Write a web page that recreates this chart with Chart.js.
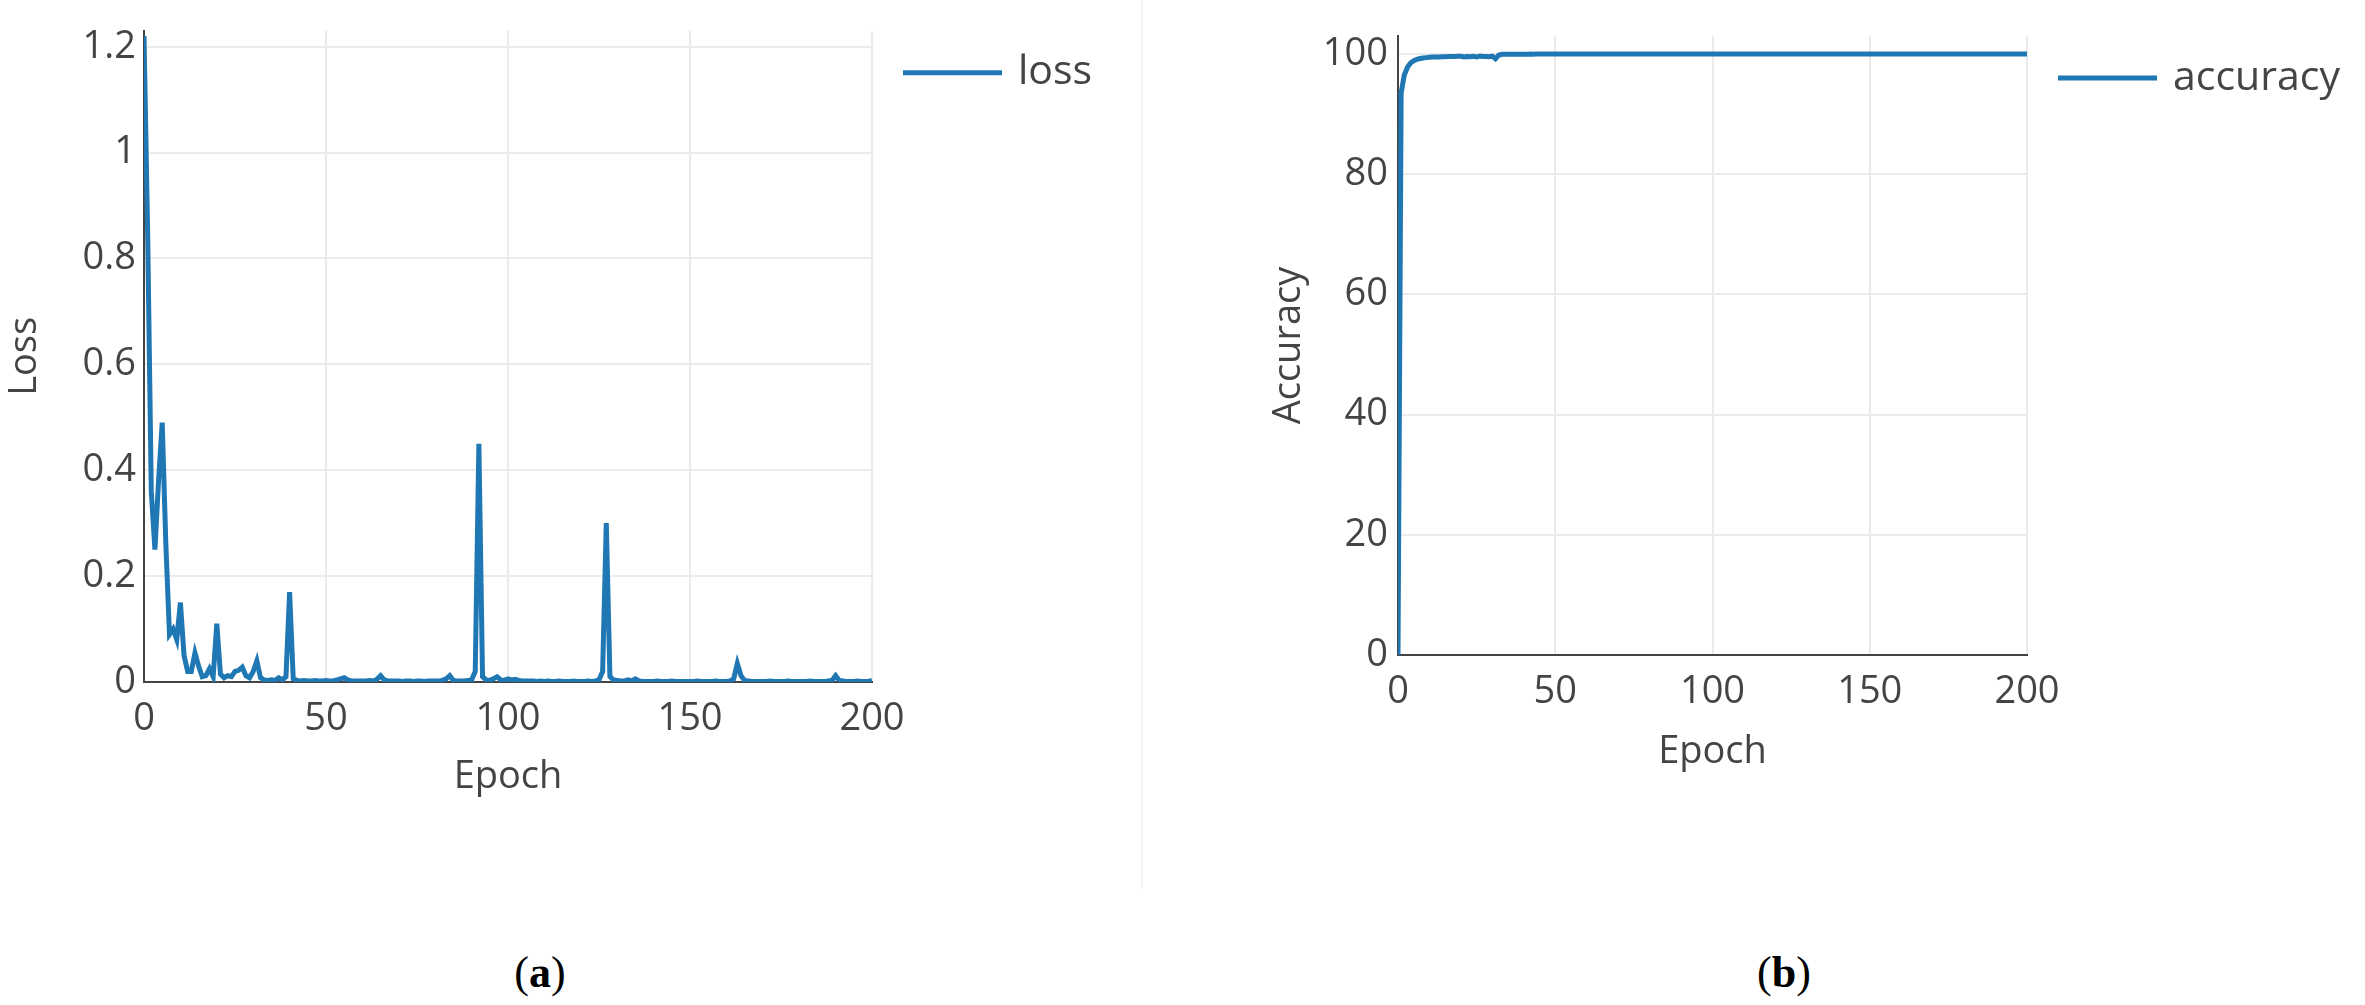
<!DOCTYPE html>
<html>
<head>
<meta charset="utf-8">
<script src="https://cdn.jsdelivr.net/npm/chart.js@4.4.0/dist/chart.umd.min.js"></script>
<style>
  html, body { margin: 0; padding: 0; background: #fff; width: 2365px; height: 1005px; overflow: hidden; }
  canvas { position: absolute; top: 0; }
  #lossCanvas { left: 0; }
  #accCanvas { left: 1141px; }
  .sep { position: absolute; left: 1141px; top: 0; width: 2px; height: 890px; background: #f6f6f6; }
  .cap { position: absolute; top: 948px; line-height: 50px; font-family: 'Liberation Serif', 'Times New Roman', serif;
         font-size: 44px; color: #000; transform: translateX(-50%); }
</style>
</head>
<body>
<canvas id="lossCanvas" width="1141" height="820"></canvas>
<div class="sep"></div>
<canvas id="accCanvas" width="1224" height="820"></canvas>
<div class="cap" style="left:540px">(<b>a</b>)</div>
<div class="cap" style="left:1784px">(<b>b</b>)</div>
<script>
// ---- data (one value per epoch, epoch 0..200) ----
var lossValues = [
  1.22, 0.85, 0.36, 0.25, 0.38, 0.49, 0.26, 0.09, 0.10, 0.08,
  0.15, 0.05, 0.02, 0.02, 0.055, 0.03, 0.01, 0.012, 0.025, 0.01,
  0.11, 0.015, 0.008, 0.012, 0.01, 0.02, 0.022, 0.028, 0.012, 0.008,
  0.02, 0.04, 0.008, 0.004, 0.003, 0.004, 0.003, 0.008, 0.004, 0.01,
  0.17, 0.006, 0.003, 0.002, 0.003, 0.002, 0.002, 0.003, 0.002, 0.002,
  0.003, 0.002, 0.002, 0.004, 0.006, 0.008, 0.004, 0.002, 0.002, 0.002,
  0.002, 0.002, 0.003, 0.002, 0.005, 0.012, 0.004, 0.002, 0.002, 0.002,
  0.002, 0.001, 0.002, 0.002, 0.001, 0.002, 0.002, 0.001, 0.002, 0.002,
  0.002, 0.002, 0.003, 0.006, 0.012, 0.003, 0.002, 0.002, 0.002, 0.003,
  0.004, 0.02, 0.45, 0.01, 0.004, 0.003, 0.006, 0.01, 0.004, 0.003,
  0.006, 0.004, 0.005, 0.003, 0.002, 0.002, 0.002, 0.002, 0.001, 0.002,
  0.001, 0.002, 0.001, 0.001, 0.002, 0.001, 0.001, 0.001, 0.002, 0.001,
  0.001, 0.001, 0.002, 0.001, 0.002, 0.004, 0.02, 0.30, 0.01, 0.004,
  0.003, 0.002, 0.002, 0.004, 0.002, 0.006, 0.002, 0.001, 0.001, 0.001,
  0.001, 0.002, 0.001, 0.001, 0.001, 0.002, 0.001, 0.001, 0.001, 0.001,
  0.001, 0.001, 0.002, 0.001, 0.001, 0.001, 0.001, 0.002, 0.001, 0.001,
  0.001, 0.002, 0.006, 0.035, 0.012, 0.003, 0.002, 0.001, 0.001, 0.001,
  0.001, 0.001, 0.002, 0.001, 0.001, 0.001, 0.001, 0.002, 0.001, 0.001,
  0.001, 0.001, 0.001, 0.002, 0.001, 0.001, 0.001, 0.001, 0.002, 0.003,
  0.012, 0.003, 0.002, 0.001, 0.001, 0.001, 0.002, 0.001, 0.001, 0.001,
  0.003
];

var accuracyValues = [
  0, 93.5, 96.5, 97.8, 98.5, 98.9, 99.1, 99.25, 99.35, 99.4,
  99.45, 99.5, 99.5, 99.52, 99.55, 99.55, 99.58, 99.6, 99.6, 99.62,
  99.62, 99.5, 99.6, 99.55, 99.62, 99.5, 99.65, 99.6, 99.6, 99.55,
  99.65, 99.2, 99.8, 99.95, 99.96, 99.97, 99.97, 99.98, 99.97, 99.98,
  99.98, 99.98, 99.99, 99.98, 99.99, 99.99, 99.99, 99.99, 99.99, 99.99,
  99.99, 100, 99.99, 100, 100, 100, 99.99, 100, 100, 100,
  100, 100, 100, 100, 100, 100, 100, 100, 100, 100,
  100, 100, 100, 100, 100, 100, 100, 100, 100, 100,
  100, 100, 100, 100, 100, 100, 100, 100, 100, 100,
  100, 100, 100, 100, 100, 100, 100, 100, 100, 100,
  100, 100, 100, 100, 100, 100, 100, 100, 100, 100,
  100, 100, 100, 100, 100, 100, 100, 100, 100, 100,
  100, 100, 100, 100, 100, 100, 100, 100, 100, 100,
  100, 100, 100, 100, 100, 100, 100, 100, 100, 100,
  100, 100, 100, 100, 100, 100, 100, 100, 100, 100,
  100, 100, 100, 100, 100, 100, 100, 100, 100, 100,
  100, 100, 100, 100, 100, 100, 100, 100, 100, 100,
  100, 100, 100, 100, 100, 100, 100, 100, 100, 100,
  100, 100, 100, 100, 100, 100, 100, 100, 100, 100,
  100, 100, 100, 100, 100, 100, 100, 100, 100, 100,
  100
];

var epochTicks = [0, 50, 100, 150, 200];
var lossTicks = [0, 0.2, 0.4, 0.6, 0.8, 1, 1.2];
var lossTickLabels = ["0", "0.2", "0.4", "0.6", "0.8", "1", "1.2"];
var accuracyTicks = [0, 20, 40, 60, 80, 100];
var accuracyTickLabels = ["0", "20", "40", "60", "80", "100"];

var lineColor = "#1f77b4";
var textColor = "#444";

Chart.defaults.font.family = "'Open Sans', sans-serif";
Chart.defaults.font.size = 38;
Chart.defaults.color = textColor;

// legend drawn to the right of the plot, plotly style
var sideLegend = {
    id: "sideLegend",
    afterDraw: function(chart) {
        var ctx = chart.ctx;
        var a = chart.chartArea;
        var x0 = a.right + 31;
        var y0 = a.top + 42;
        ctx.save();
        ctx.strokeStyle = lineColor;
        ctx.lineWidth = 5;
        ctx.beginPath();
        ctx.moveTo(x0, y0);
        ctx.lineTo(x0 + 99, y0);
        ctx.stroke();
        ctx.fillStyle = textColor;
        ctx.font = "41px 'Open Sans'";
        ctx.textBaseline = "middle";
        ctx.fillText(chart.data.datasets[0].label, x0 + 115, y0);
        ctx.restore();
    }
};

function toPoints(values) {
    return values.map(function(v, i) { return { x: i, y: v }; });
}

function makeChart(id, label, values, yTitle, yTicks, yLabels, yMax, box) {
    return new Chart(document.getElementById(id), {
        type: "line",
        data: {
            datasets: [{
                label: label,
                data: toPoints(values),
                borderColor: lineColor,
                borderWidth: 5,
                pointRadius: 0,
                tension: 0,
                fill: false
            }]
        },
        options: {
            responsive: false,
            animation: false,
            layout: { padding: { top: box.top, right: box.right, left: 0, bottom: 0 } },
            plugins: { legend: { display: false }, tooltip: { enabled: false } },
            scales: {
                x: {
                    type: "linear",
                    min: 0,
                    max: 200,
                    afterBuildTicks: function(s) { s.ticks = epochTicks.map(function(v) { return { value: v }; }); },
                    afterFit: function(s) { s.height = box.xHeight; },
                    grid: { color: "#ebebeb", lineWidth: 2, drawTicks: false },
                    border: { display: true, color: textColor, width: 2 },
                    ticks: { padding: 14, maxRotation: 0, autoSkip: false },
                    title: { display: true, text: "Epoch", padding: { top: 0, bottom: box.xTitlePad } }
                },
                y: {
                    min: 0,
                    max: yMax,
                    afterBuildTicks: function(s) { s.ticks = yTicks.map(function(v) { return { value: v }; }); },
                    afterFit: function(s) { s.width = box.yWidth; },
                    grid: { color: "#ebebeb", lineWidth: 2, drawTicks: false },
                    border: { display: true, color: textColor, width: 2 },
                    ticks: {
                        padding: box.yTickPad,
                        autoSkip: false,
                        callback: function(v, i) { return yLabels[i]; }
                    },
                    title: { display: true, text: yTitle, padding: { top: box.yTitlePad, bottom: 0 } }
                }
            }
        },
        plugins: [sideLegend]
    });
}

makeChart("lossCanvas", "loss", lossValues, "Loss", lossTicks, lossTickLabels, 1.23,
    { top: 27, right: 269, yWidth: 144, xHeight: 138, xTitlePad: 20, yTitlePad: 2, yTickPad: 8 });

makeChart("accCanvas", "accuracy", accuracyValues, "Accuracy", accuracyTicks, accuracyTickLabels, 103,
    { top: 36, right: 338, yWidth: 257, xHeight: 165, xTitlePad: 45, yTitlePad: 125, yTickPad: 10 });
</script>
</body>
</html>
